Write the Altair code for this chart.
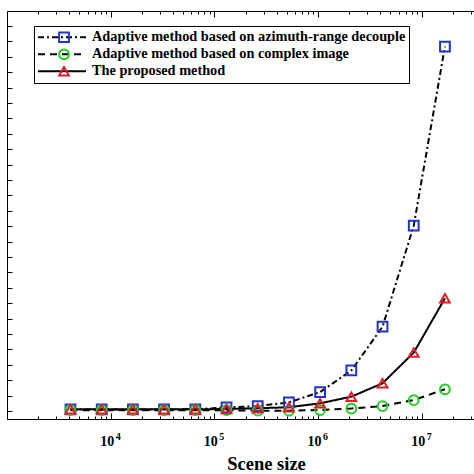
import altair as alt
import pandas as pd

# Scene sizes (pixels) and processing cost of each method
scene_size = [4096, 8192, 16384, 32768, 65536, 131072, 262144, 524288,
              1048576, 2097152, 4194304, 8388608, 16777216]
azimuth_range = [0.10, 0.10, 0.10, 0.10, 0.11, 0.23, 0.32, 0.56, 1.23, 2.63, 5.47, 12.03, 23.66]
complex_image = [0.05, 0.05, 0.05, 0.05, 0.05, 0.05, 0.02, 0.02, 0.06, 0.16, 0.32, 0.71, 1.41]
proposed = [0.11, 0.11, 0.11, 0.11, 0.11, 0.13, 0.18, 0.24, 0.50, 0.93, 1.80, 3.79, 7.32]

series_names = [
    "Adaptive method based on azimuth-range decouple",
    "Adaptive method based on complex image",
    "The proposed method",
]
series_values = [azimuth_range, complex_image, proposed]
marker_colors = ["#2233cc", "#22cc22", "#dd1f2a"]
marker_shapes = ["square", "circle", "triangle-up"]
line_dashes = [[6, 3, 2, 3], [7, 5], [1, 0]]

y_ticks = list(range(0, 26))
decades = [1e4, 1e5, 1e6, 1e7]
log_ticks = [k * 10 ** e for e in range(3, 8) for k in range(1, 10) if k * 10 ** e <= 3.1e7]

rows = []
for name, vals in zip(series_names, series_values):
    for s, v in zip(scene_size, vals):
        rows.append({"size": s, "value": v, "series": name, "marker": name})
df = pd.DataFrame(rows)

W, H = 467, 408
SERIF = "Liberation Serif"

x_scale = alt.Scale(type="log", domain=[1e3, 10 ** 7.505], nice=False)
y_scale = alt.Scale(domain=[-0.52, 25.97], nice=False, zero=False)

major_test = "abs(log(datum.value)/LN10 - round(log(datum.value)/LN10)) < 0.000001"
tick_size = {"condition": {"test": major_test, "value": 6}, "value": 3}
exponent_expr = "format(round(log(datum.value)/LN10), 'd')"

# Marker legend sits on top of the line legend, so only its symbols are drawn
marker_legend = dict(
    orient="none", legendX=47, legendY=15, title=None,
    symbolSize=95, symbolStrokeWidth=2, symbolFillColor="transparent",
    labelExpr="''", labelFontSize=14, labelOffset=0,
    padding=3, rowPadding=0, clipHeight=16.5,
)

base = alt.Chart(df)

# Lines: carry the bottom axis (base "10" of each decade label, title)
# and the left frame with inward ticks
lines = base.mark_line(color="black", strokeWidth=2).encode(
    x=alt.X("size:Q", scale=x_scale, axis=alt.Axis(
        orient="bottom", values=decades, labelExpr="'10'", ticks=False, tickSize=0,
        domain=True, domainColor="black", domainWidth=1, grid=False,
        labelFont=SERIF, labelFontSize=14, labelFontWeight="bold", labelColor="black",
        labelBaseline="alphabetic", labelPadding=26, labelOffset=-4,
        title="Scene size", titleFont=SERIF, titleFontSize=18.5, titleFontWeight="bold",
        titleColor="black", titleBaseline="alphabetic", titleAlign="center",
        titleX=259, titleY=50)),
    y=alt.Y("value:Q", scale=y_scale, axis=alt.Axis(
        orient="right", offset=-W, values=y_ticks, labels=False, title=None,
        ticks=True, tickSize=5, tickColor="black", tickWidth=1,
        domain=True, domainColor="black", domainWidth=1, grid=False)),
    strokeDash=alt.StrokeDash("series:N", scale=alt.Scale(domain=series_names, range=line_dashes),
        legend=alt.Legend(
            orient="none", legendX=27, legendY=15, title=None,
            symbolType="stroke", symbolSize=2304, symbolStrokeColor="black",
            symbolStrokeWidth=2, labelFont=SERIF, labelFontSize=14.3,
            labelFontWeight="bold", labelColor="black", labelOffset=5, labelLimit=0,
            padding=3, rowPadding=0, clipHeight=16.5,
            strokeColor="black", fillColor="white")),
    detail="series:N",
)

# Markers: carry the inward ticks along the bottom edge
points = base.mark_point(filled=False, strokeWidth=2, size=95, opacity=1).encode(
    x=alt.X("size:Q", scale=x_scale, axis=alt.Axis(
        orient="top", offset=-H, values=log_ticks, labels=False, title=None,
        domain=False, grid=False, ticks=True, tickColor="black", tickWidth=1,
        tickSize=tick_size)),
    y=alt.Y("value:Q", scale=y_scale, axis=None),
    color=alt.Color("marker:N", scale=alt.Scale(range=marker_colors),
                    legend=alt.Legend(**marker_legend)),
    shape=alt.Shape("marker:N", scale=alt.Scale(range=marker_shapes),
                    legend=alt.Legend(**marker_legend)),
)

# Top frame with ticks hanging down into the plot
top_frame = base.mark_point(opacity=0).encode(
    x=alt.X("size:Q", scale=x_scale, axis=alt.Axis(
        orient="bottom", offset=-H, values=log_ticks, labels=False, title=None,
        domain=True, domainColor="black", domainWidth=1, grid=False,
        ticks=True, tickColor="black", tickWidth=1, tickSize=tick_size)),
    y=alt.Y("value:Q", scale=y_scale, axis=None),
)

# Raised exponents of the decade labels
exponents = base.mark_point(opacity=0).encode(
    x=alt.X("size:Q", scale=x_scale, axis=alt.Axis(
        orient="bottom", values=decades, labelExpr=exponent_expr, title=None,
        ticks=False, tickSize=0, domain=False, grid=False,
        labelFont=SERIF, labelFontSize=10, labelFontWeight="bold", labelColor="black",
        labelBaseline="alphabetic", labelPadding=20, labelOffset=7)),
    y=alt.Y("value:Q", scale=y_scale, axis=None),
)

chart = alt.layer(lines, points, top_frame, exponents).resolve_axis(
    x="independent", y="independent"
).properties(
    width=W, height=H,
    autosize=alt.AutoSizeParams(type="none"),
    padding={"left": 7, "top": 11, "right": 0, "bottom": 55},
    background="white",
).configure_view(stroke=None)

chart.save("out.html", embed_options={"renderer": "svg", "actions": False})
